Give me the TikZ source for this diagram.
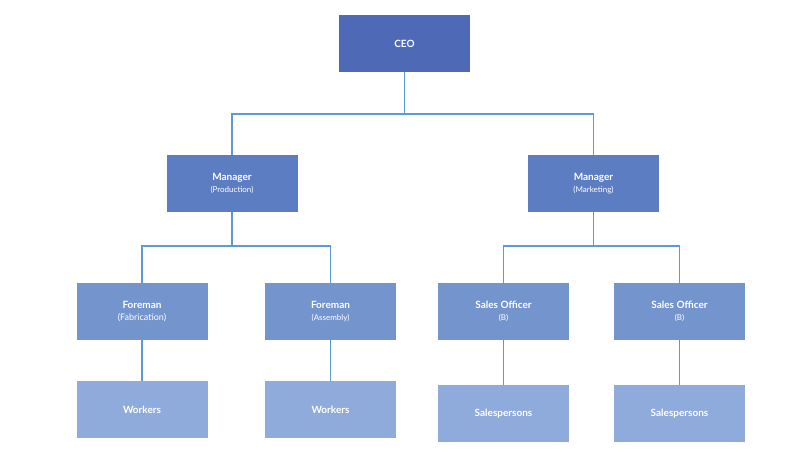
\documentclass[tikz,border=0pt]{standalone}
\usepackage{fontspec}
\setmainfont{Lato}
\usetikzlibrary{positioning}
\definecolor{ceoblue}{HTML}{4E69B5}
\definecolor{mgrblue}{HTML}{5D7DC3}
\definecolor{frmblue}{HTML}{7494CE}
\definecolor{wrkblue}{HTML}{8FABDB}
\definecolor{lineblue}{HTML}{5B9BD5}
\newcommand{\subline}[1]{{\mdseries\fontsize{8}{10}\selectfont #1}}
\tikzstyle{box} = [minimum width=131pt, minimum height=57pt, text=white, align=center, font=\bfseries\fontsize{10}{12}\selectfont]
\tikzstyle{link} = [draw=lineblue, line width=1.2pt]
\begin{document}
\begin{tikzpicture}[x=1pt,y=-1pt]
    \useasboundingbox (0,0) rectangle (792,462);
    \node[box, fill=ceoblue] (ceo) at (404.5,43.5) {CEO};

    \node[box, fill=mgrblue] (mgr_prod) at (232,183.5) {Manager\\\subline{(Production)}};
    \node[box, fill=mgrblue] (mgr_mkt) at (593.5,183.5) {Manager\\\subline{(Marketing)}};

    \node[box, fill=frmblue] (frm_fab) at (142,311.5) {Foreman\\{\mdseries\fontsize{9}{11}\selectfont (Fabrication)}};
    \node[box, fill=frmblue] (frm_asm) at (330.5,311.5) {Foreman\\\subline{(Assembly)}};
    \node[box, fill=frmblue] (so_a) at (503.5,311.5) {Sales Officer\\\subline{(B)}};
    \node[box, fill=frmblue] (so_b) at (679.5,311.5) {Sales Officer\\\subline{(B)}};

    \node[box, fill=wrkblue] (wrk_fab) at (142,409.5) {Workers};
    \node[box, fill=wrkblue] (wrk_asm) at (330.5,409.5) {Workers};
    \node[box, fill=wrkblue] (sp_a) at (503.5,413.5) {Salespersons};
    \node[box, fill=wrkblue] (sp_b) at (679.5,413.5) {Salespersons};

    \draw[link] (ceo.south) |- (232,114) -- (mgr_prod.north);
    \draw[link] (ceo.south) |- (593.5,114) -- (mgr_mkt.north);
    \draw[link] (mgr_prod.south) |- (142,246) -- (frm_fab.north);
    \draw[link] (mgr_prod.south) |- (330.5,246) -- (frm_asm.north);
    \draw[link] (mgr_mkt.south) |- (503.5,246) -- (so_a.north);
    \draw[link] (mgr_mkt.south) |- (679.5,246) -- (so_b.north);
    \draw[link] (frm_fab) -- (wrk_fab);
    \draw[link] (frm_asm) -- (wrk_asm);
    \draw[link] (so_a) -- (sp_a);
    \draw[link] (so_b) -- (sp_b);
\end{tikzpicture}
\end{document}
